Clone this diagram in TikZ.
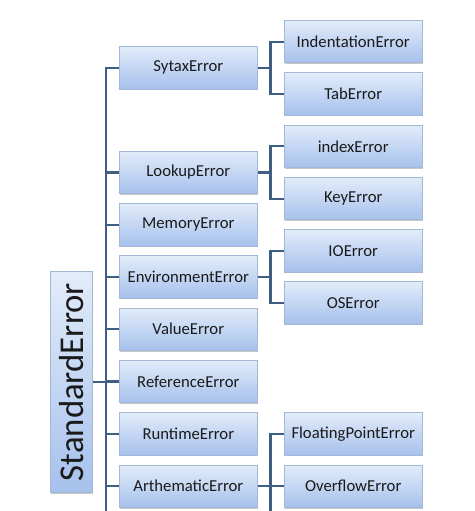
\documentclass[tikz,border=0pt]{standalone}
\usepackage{fontspec}
\setmainfont{Carlito}
\usetikzlibrary{shadows}
\definecolor{linec}{HTML}{3E5F82}
\definecolor{boxtop}{HTML}{E2ECFA}
\definecolor{boxbot}{HTML}{A6C1EC}
\definecolor{boxborder}{HTML}{A3B8D4}
\definecolor{txt}{HTML}{1A1A1A}
\tikzset{
  ebox/.style={draw=boxborder, line width=0.8pt, top color=boxtop, bottom color=boxbot,
    minimum width=138pt, minimum height=42.3pt, inner sep=0pt,
    font=\fontsize{16.7}{18}\selectfont, text=txt,
    drop shadow={shadow xshift=0.8pt, shadow yshift=-1.3pt, fill=black, opacity=0.22}},
  rootbox/.style={ebox, rotate=90, minimum width=220.6pt, minimum height=42.3pt,
    font=\fontsize{34.8}{36}\selectfont},
  conn/.style={draw=linec, line width=2.2pt},
}
\begin{document}
\begin{tikzpicture}[x=1pt,y=-1pt]
\fill[white] (0,0) rectangle (474,511);
\useasboundingbox (0,0) rectangle (474,511);
% root
\node[rootbox] (std) at (71.2,382) {StandardError};
% left column
\node[ebox] (sytax) at (188.3,67.8) {SytaxError};
\node[ebox] (lookup) at (188.3,172.5) {LookupError};
\node[ebox] (memory) at (188.3,224.8) {MemoryError};
\node[ebox] (env) at (188.3,277) {EnvironmentError};
\node[ebox] (value) at (188.3,329.2) {ValueError};
\node[ebox] (ref) at (188.3,381.5) {ReferenceError};
\node[ebox] (runtime) at (188.3,433.8) {RuntimeError};
\node[ebox] (arith) at (188.3,486.2) {ArthematicError};
% right column
\node[ebox] (indent) at (353.2,41.7) {IndentationError};
\node[ebox] (tab) at (353.2,94) {TabError};
\node[ebox] (index) at (353.2,146.3) {indexError};
\node[ebox] (key) at (353.2,198.7) {KeyError};
\node[ebox] (io) at (353.2,250.8) {IOError};
\node[ebox] (os) at (353.2,302.8) {OSError};
\node[ebox] (float) at (353.2,433.8) {FloatingPointError};
\node[ebox] (over) at (353.2,486.2) {OverflowError};
% coordinates
\coordinate (tbot) at (105.8,511);
\coordinate (gx) at (270.5,0);
\coordinate (gbot) at (270.5,511);
% trunk
\draw[conn] (sytax.west) -| (tbot);
\draw[conn] (std.south) -- (std.south -| tbot);
\foreach \n in {lookup,memory,env,value,ref,runtime,arith}
  \draw[conn] (\n.west) -- (\n.west -| tbot);
% groups
\draw[conn] (sytax.east) -- (sytax.east -| gx);
\draw[conn] (indent.west) -- (indent.west -| gx) -- (tab.west -| gx) -- (tab.west);
\draw[conn] (lookup.east) -- (lookup.east -| gx);
\draw[conn] (index.west) -- (index.west -| gx) -- (key.west -| gx) -- (key.west);
\draw[conn] (env.east) -- (env.east -| gx);
\draw[conn] (io.west) -- (io.west -| gx) -- (os.west -| gx) -- (os.west);
\draw[conn] (arith.east) -- (arith.east -| gx);
\draw[conn] (float.west) -- (float.west -| gx) -- (gbot);
\draw[conn] (over.west) -- (over.west -| gx);
\end{tikzpicture}
\end{document}
